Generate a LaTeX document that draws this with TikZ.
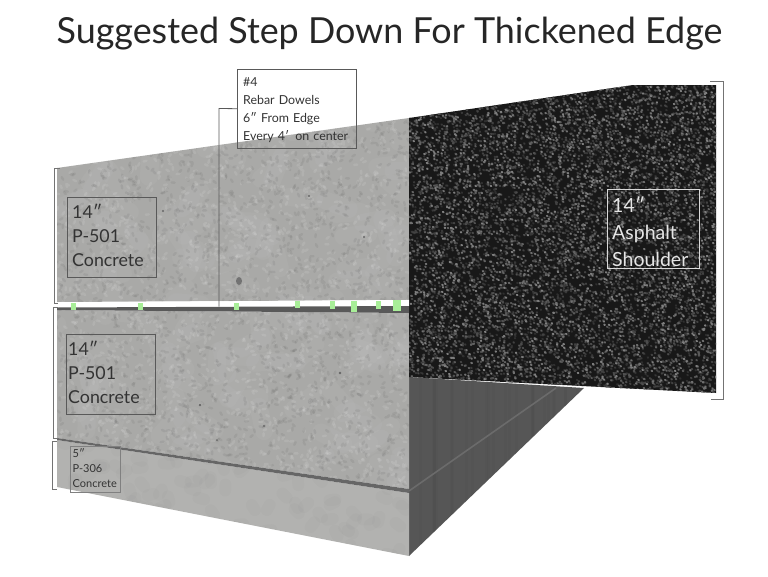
\documentclass[tikz,border=0pt]{standalone}
\usepackage{fontspec}
\setmainfont{Lato}
\definecolor{concrete}{HTML}{A9A9A7}
\definecolor{basecolor}{HTML}{B2B2B0}
\definecolor{asphalt}{HTML}{181818}
\definecolor{sideface}{HTML}{565656}
\definecolor{dowel}{HTML}{A8EE98}
\tikzstyle{callout} = [rectangle, draw=black!65, inner sep=0pt, align=left, text=black!80, anchor=north west]
\tikzstyle{big} = [callout, minimum height=80pt, font=\fontsize{17.8}{24}\selectfont, text depth=52pt]
\tikzstyle{bigwhite} = [callout, minimum height=79pt, draw=white!85!black, text=white!90!black, font=\fontsize{19.5}{27}\selectfont, text height=21.5pt]
\tikzstyle{mid} = [callout, minimum height=79pt, font=\fontsize{12.4}{18}\selectfont, text height=11pt]
\tikzstyle{tiny} = [callout, draw=black!50, minimum height=46pt, font=\fontsize{11}{15}\selectfont, text depth=32pt]
\tikzstyle{bracket} = [draw=black!55, line width=0.9pt]
\tikzstyle{leader} = [draw=black!65, line width=0.8pt]
\tikzstyle{grain} = [line width=2pt, line cap=round]
\begin{document}
\begin{tikzpicture}[x=1pt,y=-1pt]
        \useasboundingbox (0,0) rectangle (768,576);
        \pgfmathsetseed{42}

        % side face
        \fill [sideface] (409,377) -- (584,388) -- (409,556) -- cycle;
        \begin{scope}
            \clip (409,377) -- (584,388) -- (409,556) -- cycle;
            \foreach \i in {1,...,25} {
                \pgfmathsetmacro{\px}{409+rnd*175}
                \draw [black, opacity=0.02, line width=3pt] (\px,377) -- (\px,556);
            }
        \end{scope}
        \draw [black!58, line width=1.6pt] (409,491) -- (556,388);

        % front faces
        \fill [concrete] (57,168) -- (409,118) -- (409,300) -- (57,302) -- cycle;
        \fill [concrete] (57,310) -- (409,313) -- (409,489) -- (57,438) -- cycle;
        \fill [basecolor] (57,440) -- (409,493) -- (409,556) -- (57,487) -- cycle;
        \fill [asphalt] (409,118) -- (633,85) -- (716,85) -- (716,393) -- (409,377) -- cycle;

        % blotches on the base
        \begin{scope}
            \clip (57,440) -- (409,493) -- (409,556) -- (57,487) -- cycle;
            \foreach \i in {1,...,140} {
                \draw [grain, black, opacity=0.012, line width=12pt] (57+rnd*352,440+rnd*116) -- ++(rnd*360:6);
            }
        \end{scope}

        % texture of the concrete
        \begin{scope}
            \clip (57,168) -- (409,118) -- (409,300) -- (57,302) -- cycle (57,310) -- (409,313) -- (409,489) -- (57,438) -- cycle;
            \foreach \i in {1,...,150} {
                \draw [grain, white, opacity=0.035, line width=18pt] (57+rnd*352,118+rnd*372) -- ++(rnd*360:25);
            }
            \foreach \k in {1,...,6} {
                \draw [grain, white, opacity=0.10, line width=2.4pt] \foreach \i in {1,...,300} {(57+rnd*352,118+rnd*372) -- ++(rnd*360:3)};
                \draw [grain, black, opacity=0.06, line width=2.4pt] \foreach \i in {1,...,300} {(57+rnd*352,118+rnd*372) -- ++(rnd*360:3)};
            }
        \end{scope}
        \fill [black!55] (239,281) ellipse (3 and 4);
        \fill [black!60] (309,196) circle (1.2);
        \fill [black!60] (364,237) circle (1.2);
        \fill [black!60] (264,426) circle (1.1);
        \fill [black!60] (200,405) circle (1.4);
        \fill [black!60] (340,373) circle (1.4);
        \fill [black!60] (217,440) circle (1);
        \fill [black!60] (163,211) circle (1.1);

        % texture of the asphalt
        \begin{scope}
            \clip (409,118) -- (633,85) -- (716,85) -- (716,393) -- (409,377) -- cycle;
            \foreach \ps in {10,10,14,14,18,18,22,24,28,32,38,44} {
                \draw [grain, white!\ps!asphalt] \foreach \i in {1,...,850} {(409+rnd*307,85+rnd*308) -- ++(0.7,0.5)};
            }
        \end{scope}

        % joints
        \fill [white] (57,302.5) -- (409,300) -- (409,306) -- (57,307.5) -- cycle;
        \fill [black!65] (57,307.5) -- (409,306) -- (409,313) -- (57,310) -- cycle;
        \fill [black!60] (57,438) -- (409,489) -- (409,493) -- (57,440) -- cycle;

        % dowels
        \foreach \dx/\dy/\dw/\dh in {73/302.5/5/7, 140/302.5/5/7, 236/302.5/5/7, 297/301/5/7, 332/301/5/8, 354/301/6.5/11, 378/301/5/8, 397/300/8.5/11}
            \fill [dowel] (\dx-\dw/2,\dy) rectangle (\dx+\dw/2,\dy+\dh);

        % brackets
        \draw [bracket] (60,168) -- (54,168) -- (54,303) -- (58,303);
        \draw [bracket] (58,307) -- (53.5,307) -- (53.5,438) -- (58,438);
        \draw [bracket] (57,441) -- (52.5,441) -- (52.5,489) -- (57,489);
        \draw [bracket] (710,81) -- (723,81) -- (723,399) -- (711,399);

        % labels
        \node (Title) at (389.5,34) {\fontsize{35.9}{42}\selectfont \color{black!85}Suggested Step Down For Thickened Edge};
        \node (Dowels) [mid, inner xsep=6pt, text width=107pt] at (237,69) {\#4\\Rebar Dowels\\6″ From Edge\\Every 4′\, on center};
        \node (Upper Concrete) [big, inner xsep=5pt, text width=79pt] at (67,197) {14″\\P-501\\Concrete};
        \node (Lower Concrete) [big, inner xsep=2pt, text width=85pt] at (66,334) {14″\\P-501\\Concrete};
        \node (Base Concrete) [tiny, inner xsep=2.5pt, text width=45pt] at (70,446) {5″\\P-306\\Concrete};
        \node (Shoulder) [bigwhite, inner xsep=5pt, text width=82pt] at (607,189) {14″\\Asphalt\\Shoulder};

        \coordinate (Dowel End) at (219,306.5);
        \draw [leader] (Dowels.west) -- (219,108.5) -- (Dowel End);
    \end{tikzpicture}
\end{document}
